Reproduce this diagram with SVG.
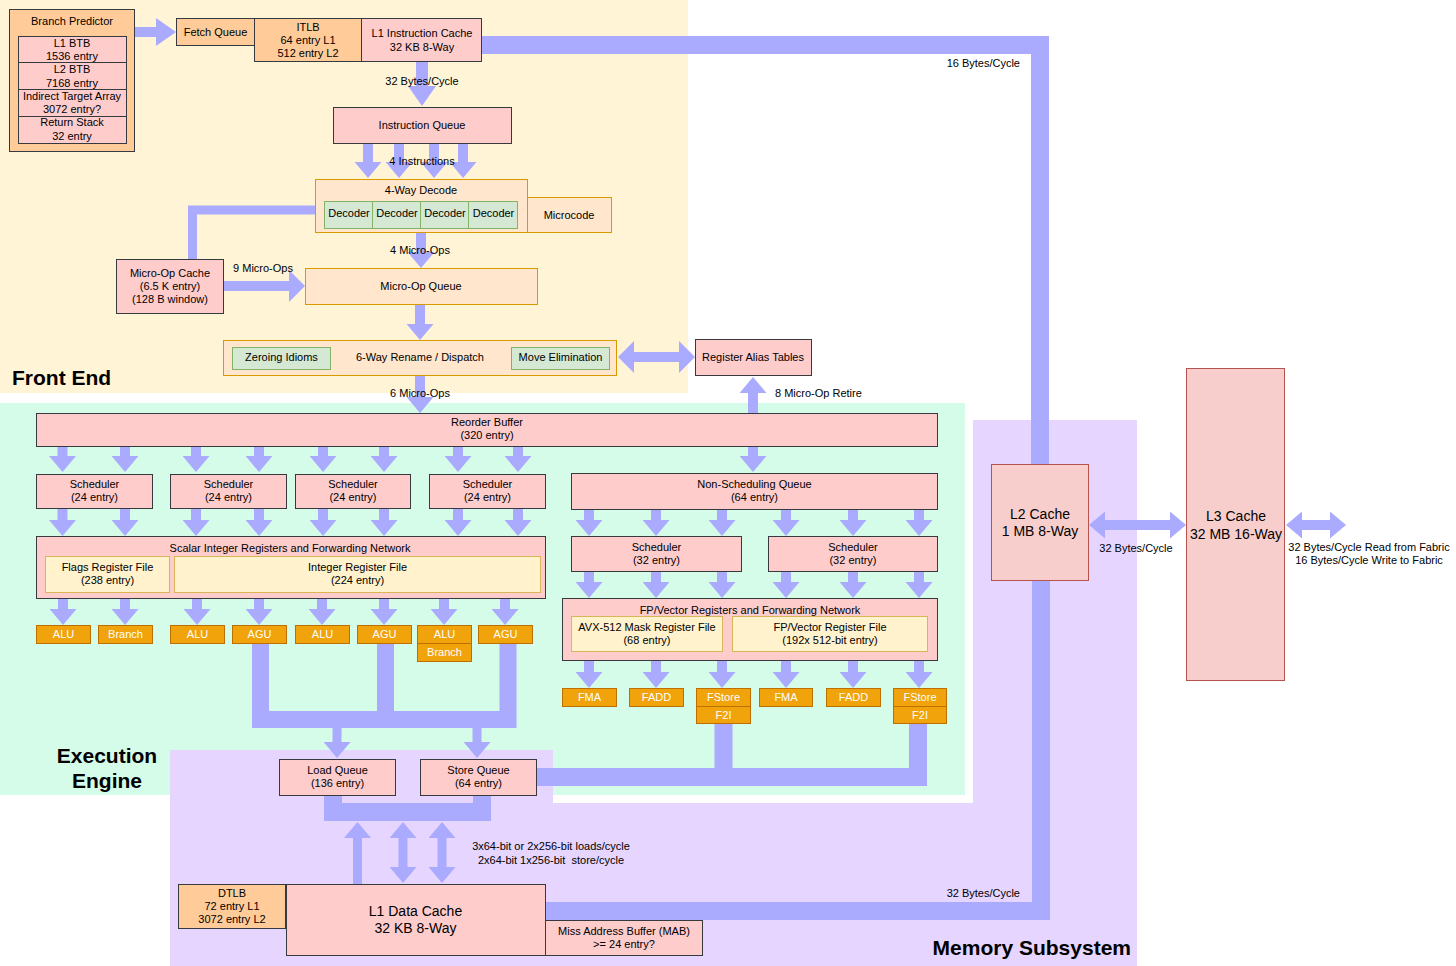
<svg xmlns="http://www.w3.org/2000/svg" width="1456" height="966" viewBox="0 0 1456 966">
<style>
text{font-family:"Liberation Sans",Arial,sans-serif;font-size:11px;fill:#000;text-anchor:middle}
.big{font-size:14px}
.reg{font-size:21px;font-weight:bold;text-anchor:start}
.end{text-anchor:end}
.st{text-anchor:start}
.pre{white-space:pre}
.wt{fill:#fff}
rect{stroke-width:1}
.pk{fill:#FFCCCC;stroke:#36393D}
.or{fill:#FFCC99;stroke:#36393D}
.lo{fill:#FFE6CC;stroke:#D79B00}
.gn{fill:#D5E8D4;stroke:#82B366}
.yl{fill:#FFF2CC;stroke:#D6B656}
.un{fill:#F0A30A;stroke:#BD7000}
.cc{fill:#F8CECC;stroke:#B85450}
.ln{stroke:#AAAAFF;fill:none}
.s{stroke-width:10}
.band{stroke-width:18;stroke-linejoin:miter}
</style>
<defs>
<marker id="a" markerUnits="userSpaceOnUse" markerWidth="16" markerHeight="27" viewBox="0 0 16 27" refX="1" refY="13.5" orient="auto-start-reverse"><path d="M0,0L16,13.5L0,27Z" fill="#AAAAFF"/></marker>
<marker id="w" markerUnits="userSpaceOnUse" markerWidth="16" markerHeight="32" viewBox="0 0 16 32" refX="1" refY="16" orient="auto-start-reverse"><path d="M0,0L16,16L0,32Z" fill="#AAAAFF"/></marker>
<marker id="b" markerUnits="userSpaceOnUse" markerWidth="20" markerHeight="28" viewBox="0 0 20 28" refX="1" refY="14" orient="auto-start-reverse"><path d="M0,0L20,14L0,28Z" fill="#AAAAFF"/></marker>
</defs>

<g id="regions">
<rect x="0" y="0" width="688" height="393" fill="#FFF4D6"/>
<rect x="0" y="403" width="965" height="392" fill="#D5FCE8"/>
<polygon points="170,750 553,750 553,803 973,803 973,420 1137,420 1137,966 170,966" fill="#E5D5FF"/>
</g>

<g id="connectors">
<path class="ln band" d="M482,45H1040V464"/>
<path class="ln band" d="M1041,581V911H545"/>
<path class="ln" stroke-width="9" d="M315,210H192.5V259"/>
<path class="ln" stroke-width="17" d="M260.5,643V719.5H508V643M385.5,643V719.5"/>
<path class="ln band" d="M537,777H918V723M723.5,723V777"/>
<path class="ln band" d="M333,795V812H482V795"/>
<line class="ln s" x1="134" y1="32" x2="157" y2="32" marker-end="url(#b)"/>
<line class="ln" stroke-width="12" x1="422" y1="62" x2="422" y2="87" marker-end="url(#b)"/>
<line class="ln s" x1="368" y1="143" x2="368" y2="163" marker-end="url(#a)"/>
<line class="ln s" x1="399" y1="143" x2="399" y2="163" marker-end="url(#a)"/>
<line class="ln s" x1="434" y1="143" x2="434" y2="163" marker-end="url(#a)"/>
<line class="ln s" x1="463" y1="143" x2="463" y2="163" marker-end="url(#a)"/>
<line class="ln s" x1="421" y1="232" x2="421" y2="253" marker-end="url(#a)"/>
<line class="ln s" x1="223" y1="286" x2="290" y2="286" marker-end="url(#w)"/>
<line class="ln s" x1="420" y1="304" x2="420" y2="325" marker-end="url(#a)"/>
<line class="ln s" x1="420" y1="375" x2="420" y2="398" marker-end="url(#a)"/>
<line class="ln s" x1="633" y1="357" x2="680" y2="357" marker-start="url(#w)" marker-end="url(#w)"/>
<line class="ln s" x1="753" y1="413" x2="753" y2="392" marker-end="url(#a)"/>
<g>
<line class="ln s" x1="62.5" y1="446" x2="62.5" y2="457" marker-end="url(#a)"/>
<line class="ln s" x1="125" y1="446" x2="125" y2="457" marker-end="url(#a)"/>
<line class="ln s" x1="196" y1="446" x2="196" y2="457" marker-end="url(#a)"/>
<line class="ln s" x1="259" y1="446" x2="259" y2="457" marker-end="url(#a)"/>
<line class="ln s" x1="323" y1="446" x2="323" y2="457" marker-end="url(#a)"/>
<line class="ln s" x1="384" y1="446" x2="384" y2="457" marker-end="url(#a)"/>
<line class="ln s" x1="458" y1="446" x2="458" y2="457" marker-end="url(#a)"/>
<line class="ln s" x1="518" y1="446" x2="518" y2="457" marker-end="url(#a)"/>
<line class="ln s" x1="753" y1="446" x2="753" y2="457" marker-end="url(#a)"/>
</g>
<g>
<line class="ln s" x1="62.5" y1="508" x2="62.5" y2="521" marker-end="url(#a)"/>
<line class="ln s" x1="125" y1="508" x2="125" y2="521" marker-end="url(#a)"/>
<line class="ln s" x1="196" y1="508" x2="196" y2="521" marker-end="url(#a)"/>
<line class="ln s" x1="259" y1="508" x2="259" y2="521" marker-end="url(#a)"/>
<line class="ln s" x1="323" y1="508" x2="323" y2="521" marker-end="url(#a)"/>
<line class="ln s" x1="384" y1="508" x2="384" y2="521" marker-end="url(#a)"/>
<line class="ln s" x1="458" y1="508" x2="458" y2="521" marker-end="url(#a)"/>
<line class="ln s" x1="518" y1="508" x2="518" y2="521" marker-end="url(#a)"/>
</g>
<g>
<line class="ln s" x1="63" y1="598" x2="63" y2="610" marker-end="url(#a)"/>
<line class="ln s" x1="125" y1="598" x2="125" y2="610" marker-end="url(#a)"/>
<line class="ln s" x1="197" y1="598" x2="197" y2="610" marker-end="url(#a)"/>
<line class="ln s" x1="259" y1="598" x2="259" y2="610" marker-end="url(#a)"/>
<line class="ln s" x1="322" y1="598" x2="322" y2="610" marker-end="url(#a)"/>
<line class="ln s" x1="384" y1="598" x2="384" y2="610" marker-end="url(#a)"/>
<line class="ln s" x1="444" y1="598" x2="444" y2="610" marker-end="url(#a)"/>
<line class="ln s" x1="505" y1="598" x2="505" y2="610" marker-end="url(#a)"/>
</g>
<g>
<line class="ln s" x1="589" y1="509" x2="589" y2="521" marker-end="url(#a)"/>
<line class="ln s" x1="656" y1="509" x2="656" y2="521" marker-end="url(#a)"/>
<line class="ln s" x1="722" y1="509" x2="722" y2="521" marker-end="url(#a)"/>
<line class="ln s" x1="786" y1="509" x2="786" y2="521" marker-end="url(#a)"/>
<line class="ln s" x1="853" y1="509" x2="853" y2="521" marker-end="url(#a)"/>
<line class="ln s" x1="919" y1="509" x2="919" y2="521" marker-end="url(#a)"/>
<line class="ln s" x1="589" y1="572" x2="589" y2="583" marker-end="url(#a)"/>
<line class="ln s" x1="656" y1="572" x2="656" y2="583" marker-end="url(#a)"/>
<line class="ln s" x1="722" y1="572" x2="722" y2="583" marker-end="url(#a)"/>
<line class="ln s" x1="786" y1="572" x2="786" y2="583" marker-end="url(#a)"/>
<line class="ln s" x1="853" y1="572" x2="853" y2="583" marker-end="url(#a)"/>
<line class="ln s" x1="919" y1="572" x2="919" y2="583" marker-end="url(#a)"/>
<line class="ln s" x1="589" y1="661" x2="589" y2="673" marker-end="url(#a)"/>
<line class="ln s" x1="656" y1="661" x2="656" y2="673" marker-end="url(#a)"/>
<line class="ln s" x1="722" y1="661" x2="722" y2="673" marker-end="url(#a)"/>
<line class="ln s" x1="786" y1="661" x2="786" y2="673" marker-end="url(#a)"/>
<line class="ln s" x1="853" y1="661" x2="853" y2="673" marker-end="url(#a)"/>
<line class="ln s" x1="919" y1="661" x2="919" y2="673" marker-end="url(#a)"/>
</g>
<line class="ln" stroke-width="9" x1="337" y1="728" x2="337" y2="743" marker-end="url(#a)"/>
<line class="ln" stroke-width="9" x1="477" y1="728" x2="477" y2="743" marker-end="url(#a)"/>
<line class="ln" stroke-width="9" x1="357.5" y1="884" x2="357.5" y2="837" marker-end="url(#a)"/>
<line class="ln" stroke-width="9" x1="403" y1="837" x2="403" y2="868" marker-start="url(#a)" marker-end="url(#a)"/>
<line class="ln" stroke-width="9" x1="442" y1="837" x2="442" y2="868" marker-start="url(#a)" marker-end="url(#a)"/>
<line class="ln s" x1="1104" y1="525" x2="1171" y2="525" marker-start="url(#a)" marker-end="url(#a)"/>
<line class="ln s" x1="1301" y1="525" x2="1331" y2="525" marker-start="url(#a)" marker-end="url(#a)"/>
</g>

<g id="branch-predictor">
<rect class="or" x="9.5" y="9.5" width="125" height="142"/>
<text x="72" y="25">Branch Predictor</text>
<rect class="pk" x="18.5" y="36.5" width="108" height="26"/>
<rect class="pk" x="18.5" y="62.5" width="108" height="27"/>
<rect class="pk" x="18.5" y="89.5" width="108" height="27"/>
<rect class="pk" x="18.5" y="116.5" width="108" height="27"/>
<text x="72" y="47">L1 BTB</text><text x="72" y="60">1536 entry</text>
<text x="72" y="73">L2 BTB</text><text x="72" y="87">7168 entry</text>
<text x="72" y="100">Indirect Target Array</text><text x="72" y="113">3072 entry?</text>
<text x="72" y="126">Return Stack</text><text x="72" y="140">32 entry</text>
</g>
<g id="fetch-queue"><rect class="or" x="176.5" y="18.5" width="78" height="27"/><text x="215.5" y="36">Fetch Queue</text></g>
<g id="itlb"><rect class="or" x="254.5" y="18.5" width="107" height="43"/><text x="308" y="31">ITLB</text><text x="308" y="44">64 entry L1</text><text x="308" y="57">512 entry L2</text></g>
<g id="l1i"><rect class="pk" x="361.5" y="18.5" width="120" height="43"/><text x="422" y="37">L1 Instruction Cache</text><text x="422" y="51">32 KB 8-Way</text></g>
<g id="instruction-queue"><rect class="pk" x="333.5" y="107.5" width="178" height="36"/><text x="422" y="129">Instruction Queue</text></g>
<g id="decode">
<rect class="lo" x="315.5" y="179.5" width="212" height="53"/>
<text x="421" y="194">4-Way Decode</text>
<rect class="gn" x="324.5" y="201.5" width="48" height="27"/><text x="349" y="217">Decoder</text>
<rect class="gn" x="372.5" y="201.5" width="48" height="27"/><text x="397" y="217">Decoder</text>
<rect class="gn" x="420.5" y="201.5" width="48" height="27"/><text x="445" y="217">Decoder</text>
<rect class="gn" x="468.5" y="201.5" width="49" height="27"/><text x="493.5" y="217">Decoder</text>
</g>
<g id="microcode"><rect class="lo" x="527.5" y="197.5" width="84" height="35"/><text x="569" y="219">Microcode</text></g>
<g id="uop-cache"><rect class="pk" x="116.5" y="259.5" width="107" height="54" stroke="#000"/><text x="170" y="277">Micro-Op Cache</text><text x="170" y="290">(6.5 K entry)</text><text x="170" y="303">(128 B window)</text></g>
<g id="uop-queue"><rect class="lo" x="305.5" y="268.5" width="232" height="36"/><text x="421" y="290">Micro-Op Queue</text></g>
<g id="rename">
<rect class="lo" x="223.5" y="340.5" width="393" height="35"/>
<rect class="gn" x="232.5" y="347.5" width="98" height="22"/><text x="281.5" y="361">Zeroing Idioms</text>
<text x="420" y="361">6-Way Rename / Dispatch</text>
<rect class="gn" x="511.5" y="347.5" width="98" height="22"/><text x="560.5" y="361">Move Elimination</text>
</g>
<g id="rat"><rect class="pk" x="695.5" y="339.5" width="116" height="36"/><text x="753" y="361">Register Alias Tables</text></g>

<g id="rob"><rect class="pk" x="36.5" y="413.5" width="901" height="33"/><text x="487" y="426">Reorder Buffer</text><text x="487" y="439">(320 entry)</text></g>
<g id="int-schedulers">
<rect class="pk" x="36.5" y="474.5" width="116" height="34"/><text x="94.5" y="488">Scheduler</text><text x="94.5" y="501">(24 entry)</text>
<rect class="pk" x="170.5" y="474.5" width="116" height="34"/><text x="228.5" y="488">Scheduler</text><text x="228.5" y="501">(24 entry)</text>
<rect class="pk" x="295.5" y="474.5" width="115" height="34"/><text x="353" y="488">Scheduler</text><text x="353" y="501">(24 entry)</text>
<rect class="pk" x="429.5" y="474.5" width="116" height="34"/><text x="487.5" y="488">Scheduler</text><text x="487.5" y="501">(24 entry)</text>
</g>
<g id="nsq"><rect class="pk" x="571.5" y="473.5" width="366" height="36"/><text x="754.5" y="488">Non-Scheduling Queue</text><text x="754.5" y="501">(64 entry)</text></g>
<g id="int-regs">
<rect class="pk" x="36.5" y="536.5" width="509" height="62"/>
<text x="290" y="552">Scalar Integer Registers and Forwarding Network</text>
<rect class="yl" x="45.5" y="556.5" width="124" height="36"/><text x="107.5" y="571">Flags Register File</text><text x="107.5" y="584">(238 entry)</text>
<rect class="yl" x="174.5" y="556.5" width="366" height="36"/><text x="357.5" y="571">Integer Register File</text><text x="357.5" y="584">(224 entry)</text>
</g>
<g id="int-units">
<rect class="un" x="36.5" y="625.5" width="54" height="18"/><text class="wt" x="63.5" y="638">ALU</text>
<rect class="un" x="98.5" y="625.5" width="54" height="18"/><text class="wt" x="125.5" y="638">Branch</text>
<rect class="un" x="170.5" y="625.5" width="54" height="18"/><text class="wt" x="197.5" y="638">ALU</text>
<rect class="un" x="232.5" y="625.5" width="54" height="18"/><text class="wt" x="259.5" y="638">AGU</text>
<rect class="un" x="295.5" y="625.5" width="54" height="18"/><text class="wt" x="322.5" y="638">ALU</text>
<rect class="un" x="357.5" y="625.5" width="54" height="18"/><text class="wt" x="384.5" y="638">AGU</text>
<rect class="un" x="417.5" y="625.5" width="54" height="18"/><text class="wt" x="444.5" y="638">ALU</text>
<rect class="un" x="417.5" y="643.5" width="54" height="18"/><text class="wt" x="444.5" y="656">Branch</text>
<rect class="un" x="478.5" y="625.5" width="54" height="18"/><text class="wt" x="505.5" y="638">AGU</text>
</g>
<g id="fp-schedulers">
<rect class="pk" x="571.5" y="536.5" width="170" height="35"/><text x="656.5" y="551">Scheduler</text><text x="656.5" y="564">(32 entry)</text>
<rect class="pk" x="768.5" y="536.5" width="169" height="35"/><text x="853" y="551">Scheduler</text><text x="853" y="564">(32 entry)</text>
</g>
<g id="fp-regs">
<rect class="pk" x="562.5" y="598.5" width="375" height="62"/>
<text x="750" y="614">FP/Vector Registers and Forwarding Network</text>
<rect class="yl" x="571.5" y="616.5" width="151" height="35"/><text x="647" y="631">AVX-512 Mask Register File</text><text x="647" y="644">(68 entry)</text>
<rect class="yl" x="732.5" y="616.5" width="195" height="35"/><text x="830" y="631">FP/Vector Register File</text><text x="830" y="644">(192x 512-bit entry)</text>
</g>
<g id="fp-units">
<rect class="un" x="562.5" y="688.5" width="54" height="18"/><text class="wt" x="589.5" y="701">FMA</text>
<rect class="un" x="629.5" y="688.5" width="54" height="18"/><text class="wt" x="656.5" y="701">FADD</text>
<rect class="un" x="696.5" y="688.5" width="54" height="18"/><text class="wt" x="723.5" y="701">FStore</text>
<rect class="un" x="696.5" y="706.5" width="54" height="17"/><text class="wt" x="723.5" y="719">F2I</text>
<rect class="un" x="759.5" y="688.5" width="53" height="18"/><text class="wt" x="786" y="701">FMA</text>
<rect class="un" x="826.5" y="688.5" width="54" height="18"/><text class="wt" x="853.5" y="701">FADD</text>
<rect class="un" x="893.5" y="688.5" width="53" height="18"/><text class="wt" x="920" y="701">FStore</text>
<rect class="un" x="893.5" y="706.5" width="53" height="17"/><text class="wt" x="920" y="719">F2I</text>
</g>
<g id="load-queue"><rect class="pk" x="279.5" y="759.5" width="116" height="36"/><text x="337.5" y="774">Load Queue</text><text x="337.5" y="787">(136 entry)</text></g>
<g id="store-queue"><rect class="pk" x="420.5" y="759.5" width="116" height="36"/><text x="478.5" y="774">Store Queue</text><text x="478.5" y="787">(64 entry)</text></g>
<g id="dtlb"><rect class="or" x="178.5" y="884.5" width="107" height="44"/><text x="232" y="897">DTLB</text><text x="232" y="910">72 entry L1</text><text x="232" y="923">3072 entry L2</text></g>
<g id="l1d"><rect class="pk" x="286.5" y="884.5" width="259" height="71"/><text class="big" x="415.5" y="916">L1 Data Cache</text><text class="big" x="415.5" y="933">32 KB 8-Way</text></g>
<g id="mab"><rect class="pk" x="545.5" y="920.5" width="157" height="35"/><text x="624" y="935">Miss Address Buffer (MAB)</text><text x="624" y="948">&gt;= 24 entry?</text></g>
<g id="l2"><rect class="cc" x="991.5" y="464.5" width="97" height="116"/><text class="big" x="1040" y="519">L2 Cache</text><text class="big" x="1040" y="536">1 MB 8-Way</text></g>
<g id="l3"><rect class="cc" x="1186.5" y="368.5" width="98" height="312"/><text class="big" x="1236" y="521">L3 Cache</text><text class="big" x="1236" y="539">32 MB 16-Way</text></g>

<g id="labels">
<text x="422" y="85">32 Bytes/Cycle</text>
<text x="422" y="165">4 Instructions</text>
<text x="420" y="254">4 Micro-Ops</text>
<text x="263" y="272">9 Micro-Ops</text>
<text x="420" y="397">6 Micro-Ops</text>
<text class="st" x="775" y="397">8 Micro-Op Retire</text>
<text class="end" x="1020" y="67">16 Bytes/Cycle</text>
<text class="end" x="1020" y="897">32 Bytes/Cycle</text>
<text x="1136" y="552">32 Bytes/Cycle</text>
<text x="1369" y="551">32 Bytes/Cycle Read from Fabric</text>
<text x="1369" y="564">16 Bytes/Cycle Write to Fabric</text>
<text x="551" y="850">3x64-bit or 2x256-bit loads/cycle</text>
<text class="pre" x="551" y="864">2x64-bit 1x256-bit  store/cycle</text>
<text class="reg" x="12" y="385">Front End</text>
<text class="reg" x="107" y="763" style="text-anchor:middle">Execution</text>
<text class="reg" x="107" y="788" style="text-anchor:middle">Engine</text>
<text class="reg end" x="1131" y="955">Memory Subsystem</text>
</g>
</svg>
